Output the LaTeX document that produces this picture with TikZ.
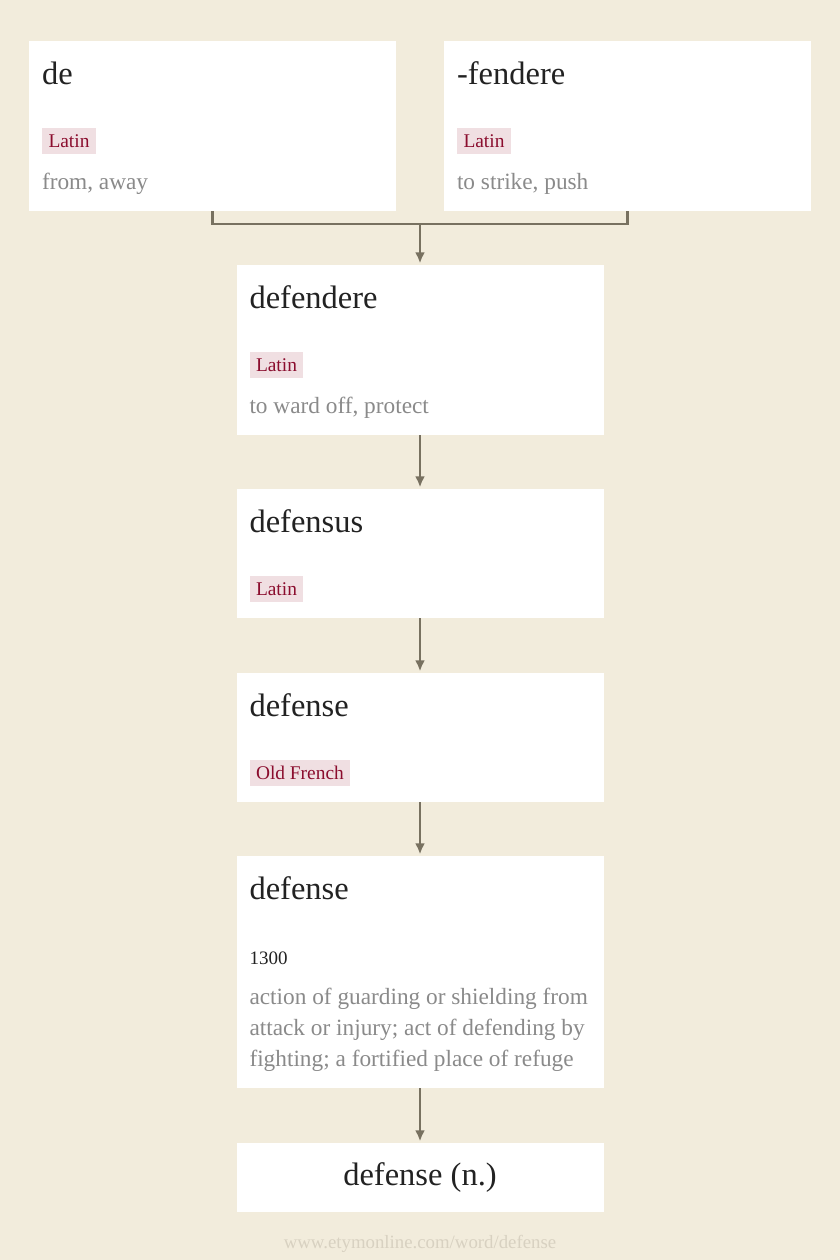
\documentclass[tikz,border=0pt]{standalone}
\usepackage{fontspec}
\setmainfont{Liberation Serif}
\usepackage{tikz}
\usetikzlibrary{positioning}
\usetikzlibrary{arrows.meta}

\definecolor{paper}{HTML}{F2ECDC}
\definecolor{ink}{HTML}{222222}
\definecolor{glossgray}{HTML}{8A8A8A}
\definecolor{tagbg}{HTML}{F0DFE2}
\definecolor{tagred}{HTML}{8B0D2E}
\definecolor{linkcol}{HTML}{787160}
\definecolor{footgray}{HTML}{D8D1C1}

\tikzset{
    wordbox/.style={rectangle,fill=white,minimum width=367pt,inner sep=0pt},
    word/.style={anchor=base west,inner sep=0pt,text=ink,font=\fontsize{32.5}{38}\selectfont},
    lang/.style={anchor=base west,fill=tagbg,text=tagred,inner xsep=6.5pt,inner ysep=6pt,
        text height=14pt,text depth=0pt,font=\fontsize{19.4}{22}\selectfont},
    gloss/.style={anchor=base west,inner sep=0pt,align=left,text=glossgray,font=\fontsize{23.3}{31}\selectfont},
    datum/.style={anchor=base west,inner sep=0pt,text=ink,font=\fontsize{19}{22}\selectfont},
    link/.style={color=linkcol,line width=2.3pt}
}

\begin{document}
\begin{tikzpicture}[>={Latex[length=11pt,width=10pt]},line join=miter,x=1pt,y=-1pt]
        %
        \fill[paper] (0,0) rectangle (840,1260);
        \useasboundingbox (0,0) rectangle (840,1260);
        %
        \node[wordbox,minimum height=170pt] (de) at (212.5,126) {};
        \node[wordbox,minimum height=170pt] (fendere) at (627.5,126) {};
        \node[wordbox,minimum height=170pt] (defendere) at (420,350) {};
        \node[wordbox,minimum height=129pt] (defensus) at (420,553.5) {};
        \node[wordbox,minimum height=129pt] (oldfr) at (420,737.5) {};
        \node[wordbox,minimum height=232pt] (defense) at (420,972) {};
        \node[wordbox,minimum height=69pt] (noun) at (420,1177.5) {};
        %
        \node[word] (de-word) at ([xshift=13pt,yshift=-44pt]de.north west) {de};
        \node[lang] (de-lang) at ([xshift=13pt,yshift=-107pt]de.north west) {Latin};
        \node[gloss] (de-gloss) at ([xshift=13pt,yshift=-149pt]de.north west) {from, away};
        %
        \node[word] (fendere-word) at ([xshift=13pt,yshift=-44pt]fendere.north west) {-fendere};
        \node[lang] (fendere-lang) at ([xshift=13pt,yshift=-107pt]fendere.north west) {Latin};
        \node[gloss] (fendere-gloss) at ([xshift=13pt,yshift=-149pt]fendere.north west) {to strike, push};
        %
        \node[word] (defendere-word) at ([xshift=13pt,yshift=-44pt]defendere.north west) {defendere};
        \node[lang] (defendere-lang) at ([xshift=13pt,yshift=-107pt]defendere.north west) {Latin};
        \node[gloss] (defendere-gloss) at ([xshift=13pt,yshift=-149pt]defendere.north west) {to ward off, protect};
        %
        \node[word] (defensus-word) at ([xshift=13pt,yshift=-44pt]defensus.north west) {defensus};
        \node[lang] (defensus-lang) at ([xshift=13pt,yshift=-107pt]defensus.north west) {Latin};
        %
        \node[word] (oldfr-word) at ([xshift=13pt,yshift=-44pt]oldfr.north west) {defense};
        \node[lang] (oldfr-lang) at ([xshift=13pt,yshift=-107pt]oldfr.north west) {Old French};
        %
        \node[word] (defense-word) at ([xshift=13pt,yshift=-44pt]defense.north west) {defense};
        \node[datum] (defense-date) at ([xshift=13pt,yshift=-109pt]defense.north west) {1300};
        % base of a three-line node sits on its last line
        \node[gloss] (defense-gloss) at ([xshift=13pt,yshift=-211pt]defense.north west)
            {action of guarding or shielding from\\attack or injury; act of defending by\\fighting; a fortified place of refuge};
        %
        \node[inner sep=0pt,text=ink,font=\fontsize{32.5}{38}\selectfont] (noun-word) at (noun) {defense (n.)};
        %
        \node[anchor=base,inner sep=0pt,text=footgray,font=\fontsize{18.8}{22}\selectfont] (footer) at (420,1248) {www.etymonline.com/word/defense};
        %
        \coordinate (join) at (420,224);
        \draw [link] (de.south) |- (join) -| (fendere.south);
        \draw [link,->,shorten >=1.5pt] (join) to (defendere.north);
        \draw [link,->,shorten >=1.5pt] (defendere) to (defensus);
        \draw [link,->,shorten >=1.5pt] (defensus) to (oldfr);
        \draw [link,->,shorten >=1.5pt] (oldfr) to (defense);
        \draw [link,->,shorten >=1.5pt] (defense) to (noun);
        %
    \end{tikzpicture}
\end{document}
